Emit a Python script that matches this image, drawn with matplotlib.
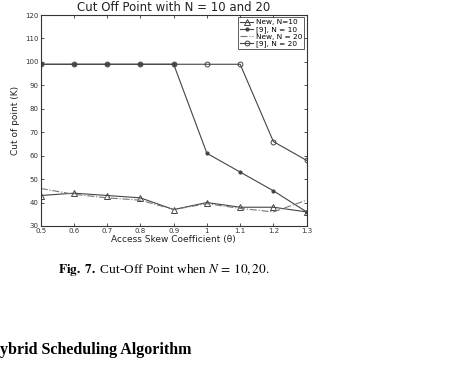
import matplotlib
matplotlib.use("Agg")
import matplotlib.pyplot as plt

theta = [0.5, 0.6, 0.7, 0.8, 0.9, 1.0, 1.1, 1.2, 1.3]
new_n10 = [43, 44, 43, 42, 37, 40, 38, 38, 36]
ref_n10 = [99, 99, 99, 99, 99, 61, 53, 45, 36]
new_n20 = [46, 43.5, 42, 41, 37, 39.5, 37.5, 36, 41]
ref_n20 = [99, 99, 99, 99, 99, 99, 99, 66, 58]
xticks = [0.5, 0.6, 0.7, 0.8, 0.9, 1, 1.1, 1.2, 1.3]
yticks = [30, 40, 50, 60, 70, 80, 90, 100, 110, 120]

fig = plt.figure(figsize=(4.74, 3.76), dpi=100)

ax = fig.add_axes([0.0859, 0.399, 0.561, 0.561])

c = '#444444'
ax.plot(theta, new_n10, '-', color=c, lw=0.8, marker='^', ms=4,
        mfc='none', mec=c, mew=0.7, label='New, N=10')
ax.plot(theta, ref_n10, '-', color=c, lw=0.8, marker='.', ms=4,
        mfc=c, mec=c, label='[9], N = 10')
ax.plot(theta, new_n20, '-.', color='#777777', lw=0.8, label='New, N = 20')
ax.plot(theta, ref_n20, '-', color=c, lw=0.8, marker='o', ms=3.5,
        mfc='none', mec=c, mew=0.7, label='[9], N = 20')

ax.set_xlim(0.5, 1.3)
ax.set_ylim(30, 120)
ax.set_xticks(xticks)
ax.set_xticklabels(['0.5', '0.6', '0.7', '0.8', '0.9', '1', '1.1', '1.2', '1.3'])
ax.set_yticks(yticks)
ax.tick_params(labelsize=5, direction='in', length=2.5, width=0.6, pad=1.5,
               top=True, right=True, colors='#333333')
for s in ax.spines.values():
    s.set_linewidth(0.8)
    s.set_color('#333333')

ax.set_title('Cut Off Point with N = 10 and 20', fontsize=8.5, pad=3, color='#222222')
ax.set_xlabel('Access Skew Coefficient (\u03b8)', fontsize=6.5, labelpad=1, color='#222222')
ax.set_ylabel('Cut of point (K)', fontsize=6.5, labelpad=4, color='#222222')

leg = ax.legend(loc='upper right', fontsize=5.3, frameon=True, fancybox=False,
                borderpad=0.25, labelspacing=0.1, handlelength=1.8,
                handletextpad=0.4, borderaxespad=0.3)
leg.get_frame().set_edgecolor('#333333')
leg.get_frame().set_linewidth(0.7)

fig.text(0.345, 0.281, r'$\mathbf{Fig.\ 7.}$ Cut-Off Point when $N\,=\,10,20.$',
         fontsize=9.5, family='Liberation Serif', ha='center', va='center',
         math_fontfamily='stix')
fig.text(0.0, 0.070, 'ybrid Scheduling Algorithm', fontsize=11.5,
         family='Liberation Serif', fontweight='bold', ha='left', va='center')

fig.savefig('out.png', dpi=100)
